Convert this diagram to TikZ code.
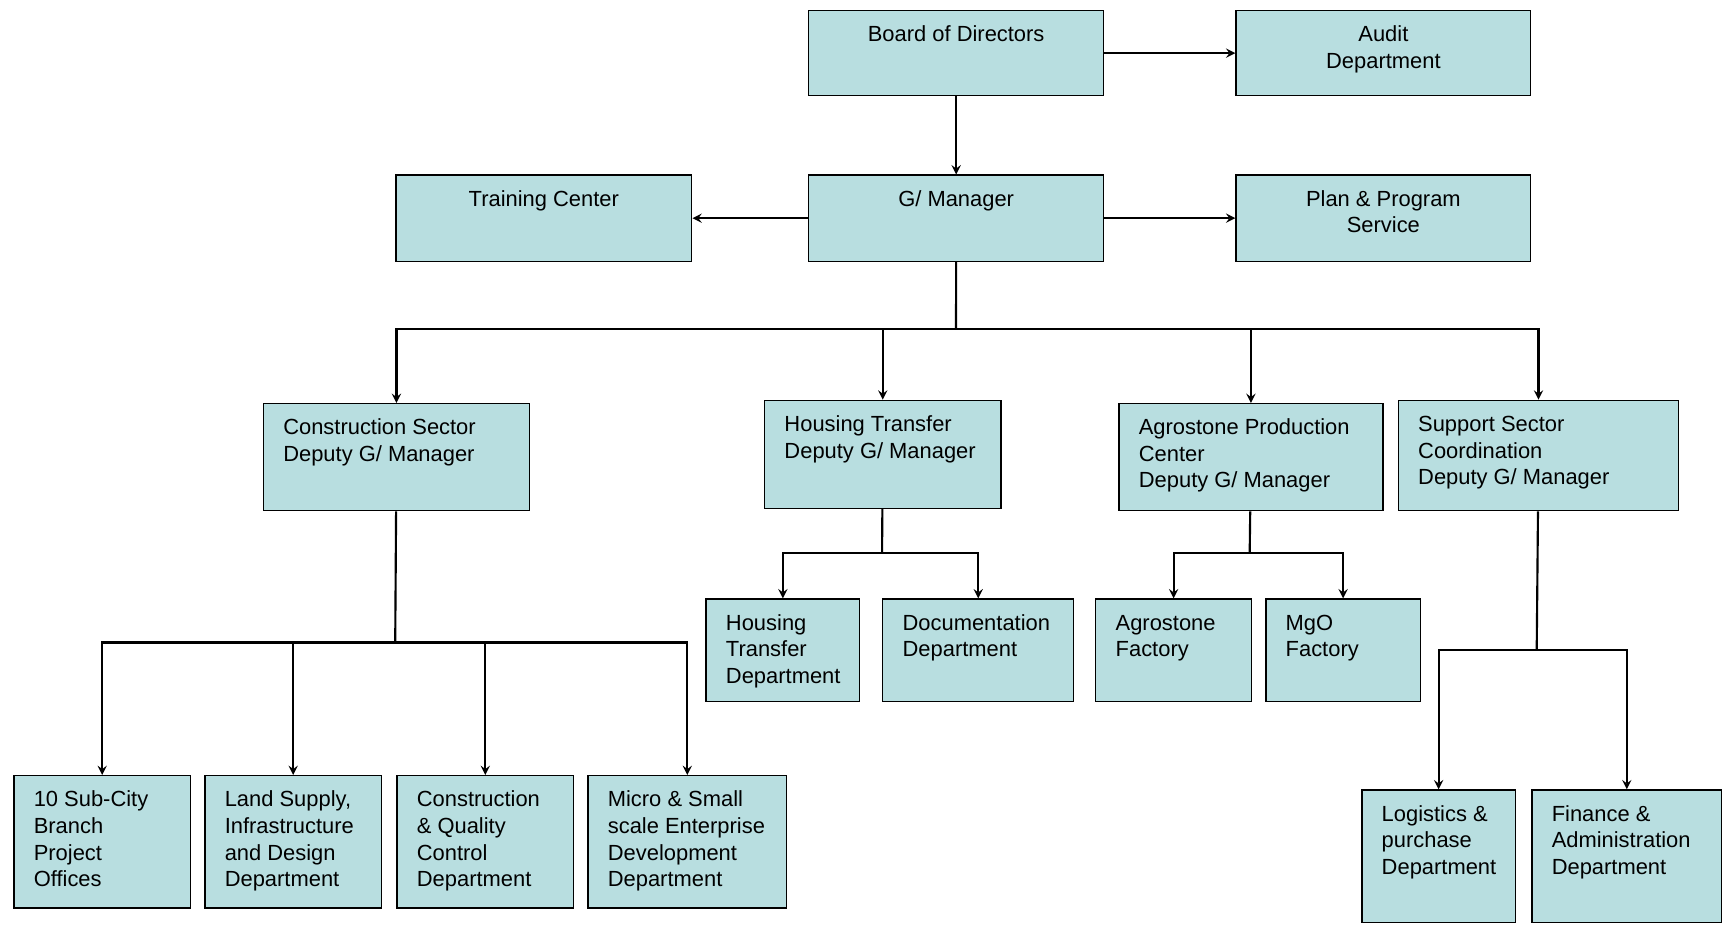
\documentclass[tikz,border=0pt]{standalone}
\usepackage{fontspec}
\setmainfont{Liberation Sans}
\usetikzlibrary{arrows, positioning}
\definecolor{boxcyan}{RGB}{184,222,224}
\newlength\pxu
\setlength\pxu{0.02cm}
% box: name, x, y (top left), width, height, alignment, text
\newcommand\orgbox[7]{%
  \node[orgnode, anchor=north west] (#1) at (#2,#3)
    {\begin{minipage}[t][#5\pxu][t]{#4\pxu}#6\vspace*{6.5pt}\strut#7\end{minipage}};}
\newcommand\ctrtxt{\centering}
\newcommand\lfttxt{\raggedright\leftskip=18\pxu}

\begin{document}
\begin{tikzpicture}[
        x=0.02cm, y=-0.02cm,
        font=\fontsize{11.3}{13.7}\selectfont,
        orgnode/.style={rectangle, draw=black, fill=boxcyan, inner sep=0pt, line width=0.7pt},
        arrow/.style={line width=1.1pt,->,>=stealth},
        link/.style={line width=1.1pt}
    ]
    \useasboundingbox (0,0) rectangle (1568,859);

    \orgbox{board}{732}{9}{267}{77}{\ctrtxt}{Board of Directors}
    \orgbox{audit}{1119}{9}{267}{77}{\ctrtxt}{Audit\\Department}
    \orgbox{gm}{732}{158}{267}{78}{\ctrtxt}{G/ Manager}
    \orgbox{train}{358}{158}{268}{78}{\ctrtxt}{Training Center}
    \orgbox{plan}{1119}{158}{267}{78}{\ctrtxt}{Plan \& Program\\Service}

    \orgbox{cons}{238}{365}{241}{97}{\lfttxt}{Construction Sector\\Deputy G/ Manager}
    \orgbox{house}{692}{362}{214}{98}{\lfttxt}{Housing Transfer\\Deputy G/ Manager}
    \orgbox{agro}{1013}{365}{239}{97}{\lfttxt}{Agrostone Production\\Center\\Deputy G/ Manager}
    \orgbox{supp}{1266}{362}{254}{100}{\lfttxt}{Support Sector\\Coordination\\Deputy G/ Manager}

    \orgbox{htdept}{639}{542}{139}{93}{\lfttxt}{Housing\\Transfer\\Department}
    \orgbox{docdept}{799}{542}{173}{93}{\lfttxt}{Documentation\\Department}
    \orgbox{agfact}{992}{542}{141}{93}{\lfttxt}{Agrostone\\Factory}
    \orgbox{mgofact}{1146}{542}{140}{93}{\lfttxt}{MgO\\Factory}

    \orgbox{subcity}{12}{702}{160}{120}{\lfttxt}{10 Sub-City\\Branch\\Project\\Offices}
    \orgbox{land}{185}{702}{160}{120}{\lfttxt}{Land Supply,\\Infrastructure\\and Design\\Department}
    \orgbox{quality}{359}{702}{160}{120}{\lfttxt}{Construction\\\& Quality\\Control\\Department}
    \orgbox{micro}{532}{702}{180}{120}{\lfttxt}{Micro \& Small\\scale Enterprise\\Development\\Department}

    \orgbox{logist}{1233}{715}{139}{120}{\lfttxt}{Logistics \&\\purchase\\Department}
    \orgbox{finance}{1387}{715}{172}{120}{\lfttxt}{Finance \&\\Administration\\Department}

    % bus points
    \coordinate (gmbus) at (866,298);
    \coordinate (consbus) at (358,582);
    \coordinate (housebus) at (799,501);
    \coordinate (agrobus) at (1132,501);
    \coordinate (suppbus) at (1392,589);

    \draw [arrow] (board) -- (audit);
    \draw [arrow] (board) -- (gm);
    \draw [arrow] (gm) -- (train);
    \draw [arrow] (gm) -- (plan);

    \draw [link] (gm) -- (gmbus);
    \draw [arrow] (gmbus) -| (cons);
    \draw [arrow] (gmbus) -| (house);
    \draw [arrow] (gmbus) -| (agro);
    \draw [arrow] (gmbus) -| (supp);

    \draw [link] (cons) -- (consbus);
    \draw [arrow] (consbus) -| (subcity);
    \draw [arrow] (consbus) -| (land);
    \draw [arrow] (consbus) -| (quality);
    \draw [arrow] (consbus) -| (micro);

    \draw [link] (house) -- (housebus);
    \draw [arrow] (housebus) -| (htdept);
    \draw [arrow] (housebus) -| (docdept);

    \draw [link] (agro) -- (agrobus);
    \draw [arrow] (agrobus) -| (agfact);
    \draw [arrow] (agrobus) -| (mgofact);

    \draw [link] (supp) -- (suppbus);
    \draw [arrow] (suppbus) -| (logist);
    \draw [arrow] (suppbus) -| (finance);

\end{tikzpicture}
\end{document}
